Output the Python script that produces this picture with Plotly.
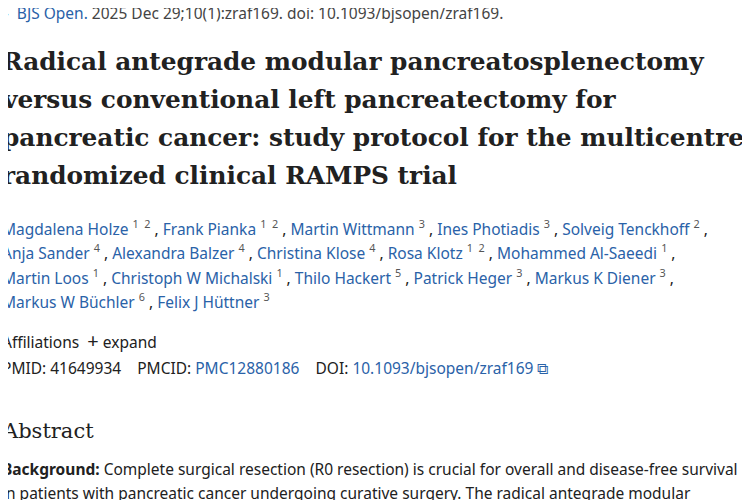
import plotly.graph_objects as go

citation_journal = "BJS Open."
citation_rest = "2025 Dec 29;10(1):zraf169. doi: 10.1093/bjsopen/zraf169."
title_lines = [
    "Radical antegrade modular pancreatosplenectomy",
    "versus conventional left pancreatectomy for",
    "pancreatic cancer: study protocol for the multicentre",
    "randomized clinical RAMPS trial",
]
author_lines = [
    [("Magdalena Holze", "1 2"), ("Frank Pianka", "1 2"), ("Martin Wittmann", "3"), ("Ines Photiadis", "3"), ("Solveig Tenckhoff", "2")],
    [("Anja Sander", "4"), ("Alexandra Balzer", "4"), ("Christina Klose", "4"), ("Rosa Klotz", "1 2"), ("Mohammed Al-Saeedi", "1")],
    [("Martin Loos", "1"), ("Christoph W Michalski", "1"), ("Thilo Hackert", "5"), ("Patrick Heger", "3"), ("Markus K Diener", "3")],
    [("Markus W Büchler", "6"), ("Felix J Hüttner", "3")],
]
pmid = "41649934"
pmcid = "PMC12880186"
doi = "10.1093/bjsopen/zraf169"
abstract_heading = "Abstract"
background_lines = [
    "<b>Background:</b> Complete surgical resection (R0 resection) is crucial for overall and disease-free survival",
    "in patients with pancreatic cancer undergoing curative surgery. The radical antegrade modular",
]

BLUE = "#2a62a8"
TEXT = "#212121"
GREY = "#444444"
SANS = "Noto Sans, Open Sans, sans-serif"
SERIF = "DejaVu Serif, Liberation Serif, serif"

W, H = 750, 500
OFF = 8  # page body margin
fig = go.Figure()
ann = []

def add(text, px, py, size, color=TEXT, family=SANS):
    ann.append(dict(text=text, x=(px - OFF) / W, y=1 - (py - OFF) / H, xref="paper", yref="paper",
                    xanchor="left", yanchor="middle", showarrow=False,
                    font=dict(size=size, color=color, family=family), align="left"))

BODY = 15.5
add(f"<span style='color:{BLUE}'>›  {citation_journal}</span> {citation_rest}", 2, 13, 15.5, GREY)

for i, line in enumerate(title_lines):
    add(f"<b>{line}</b>", 0, 62 + i * 37.7, 24.8, TEXT, SERIF)

for i, line in enumerate(author_lines):
    parts = []
    for j, (name, sup) in enumerate(line):
        sep = "," if (j < len(line) - 1 or i < len(author_lines) - 1) else ""
        s = "&nbsp;&nbsp;".join(sup.split())
        parts.append(f"<span style='color:{BLUE}'>{name}</span>&nbsp;<span style='color:#555555'><sup>{s}</sup></span>&nbsp;{sep}")
    add(" ".join(parts), 0, 228 + i * 24.3, BODY, TEXT)

add("Affiliations  <span style='font-size:20px'>+</span> expand", 0, 340, BODY, TEXT)
add(f"PMID: {pmid}    PMCID: <span style='color:{BLUE}'>{pmcid}</span>    DOI: <span style='color:{BLUE}'>{doi} ⧉</span>", 0, 368, BODY, TEXT)
add(abstract_heading, 0, 431, 21, TEXT, SERIF)
for i, line in enumerate(background_lines):
    add(line, 0, 469 + i * 24.3, BODY, TEXT)

fig.update_layout(
    width=W, height=H, margin=dict(l=0, r=0, t=0, b=0),
    paper_bgcolor="white", plot_bgcolor="white",
    xaxis=dict(visible=False), yaxis=dict(visible=False),
    annotations=ann, showlegend=False,
)
fig.write_html("out.html", config={"displayModeBar": False})
